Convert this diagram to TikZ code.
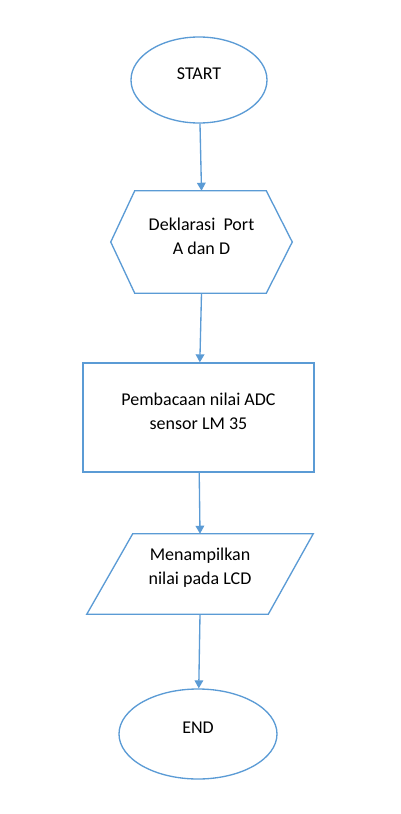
\documentclass[tikz,border=0pt]{standalone}
\usepackage{fontspec}
\setmainfont{Carlito}
\usepackage{tikz}
\usetikzlibrary{shapes.geometric,arrows.meta}

\definecolor{garis}{RGB}{91,155,213}

\tikzset{
  garis/.style={draw=garis, line width=1pt},
  panah/.style={garis, -{Triangle[length=6pt,width=6.5pt]}},
  teks/.style={align=center, font=\fontsize{13.5}{18}\selectfont, yshift=4.5pt}
}

\begin{document}
\begin{tikzpicture}[x=0.75pt, y=-0.75pt]
              \useasboundingbox (0,0) rectangle (400,814);
              % Simpul
              \node[garis, ellipse, minimum width=102pt, minimum height=64.5pt, inner sep=0pt,
                label={[teks]center:START}] (0) at (199, 80) {};
              \node[minimum width=135.75pt, minimum height=76.5pt,
                label={[teks]center:Deklarasi\ \ Port\\A dan D}] (1) at (201.5, 242) {};
              \node[garis, rectangle, minimum width=173.25pt, minimum height=81.75pt,
                label={[teks]center:Pembacaan nilai ADC\\sensor LM 35}] (2) at (198.5, 417.5) {};
              \node[minimum width=169.5pt, minimum height=60pt,
                label={[teks]center:Menampilkan\\nilai pada LCD}] (3) at (200, 574) {};
              \node[garis, ellipse, minimum width=118.5pt, minimum height=67.5pt, inner sep=0pt,
                label={[teks]center:END}] (4) at (198, 734) {};

              % Bentuk
              \draw[garis] (1.west) -- ([xshift=18pt]1.north west) -- ([xshift=-19.5pt]1.north east)
                -- (1.east) -- ([xshift=-19.5pt]1.south east) -- ([xshift=18pt]1.south west) -- cycle;
              \draw[garis] ([xshift=34.5pt]3.north west) -- (3.north east)
                -- ([xshift=-33.75pt]3.south east) -- (3.south west) -- cycle;

              % Panah
              \draw[panah] (0) -- (1.north);
              \draw[panah] (1.south) -- (2);
              \draw[panah] (2) -- (3.north);
              \draw[panah] (3.south) -- (4);
\end{tikzpicture}
\end{document}
